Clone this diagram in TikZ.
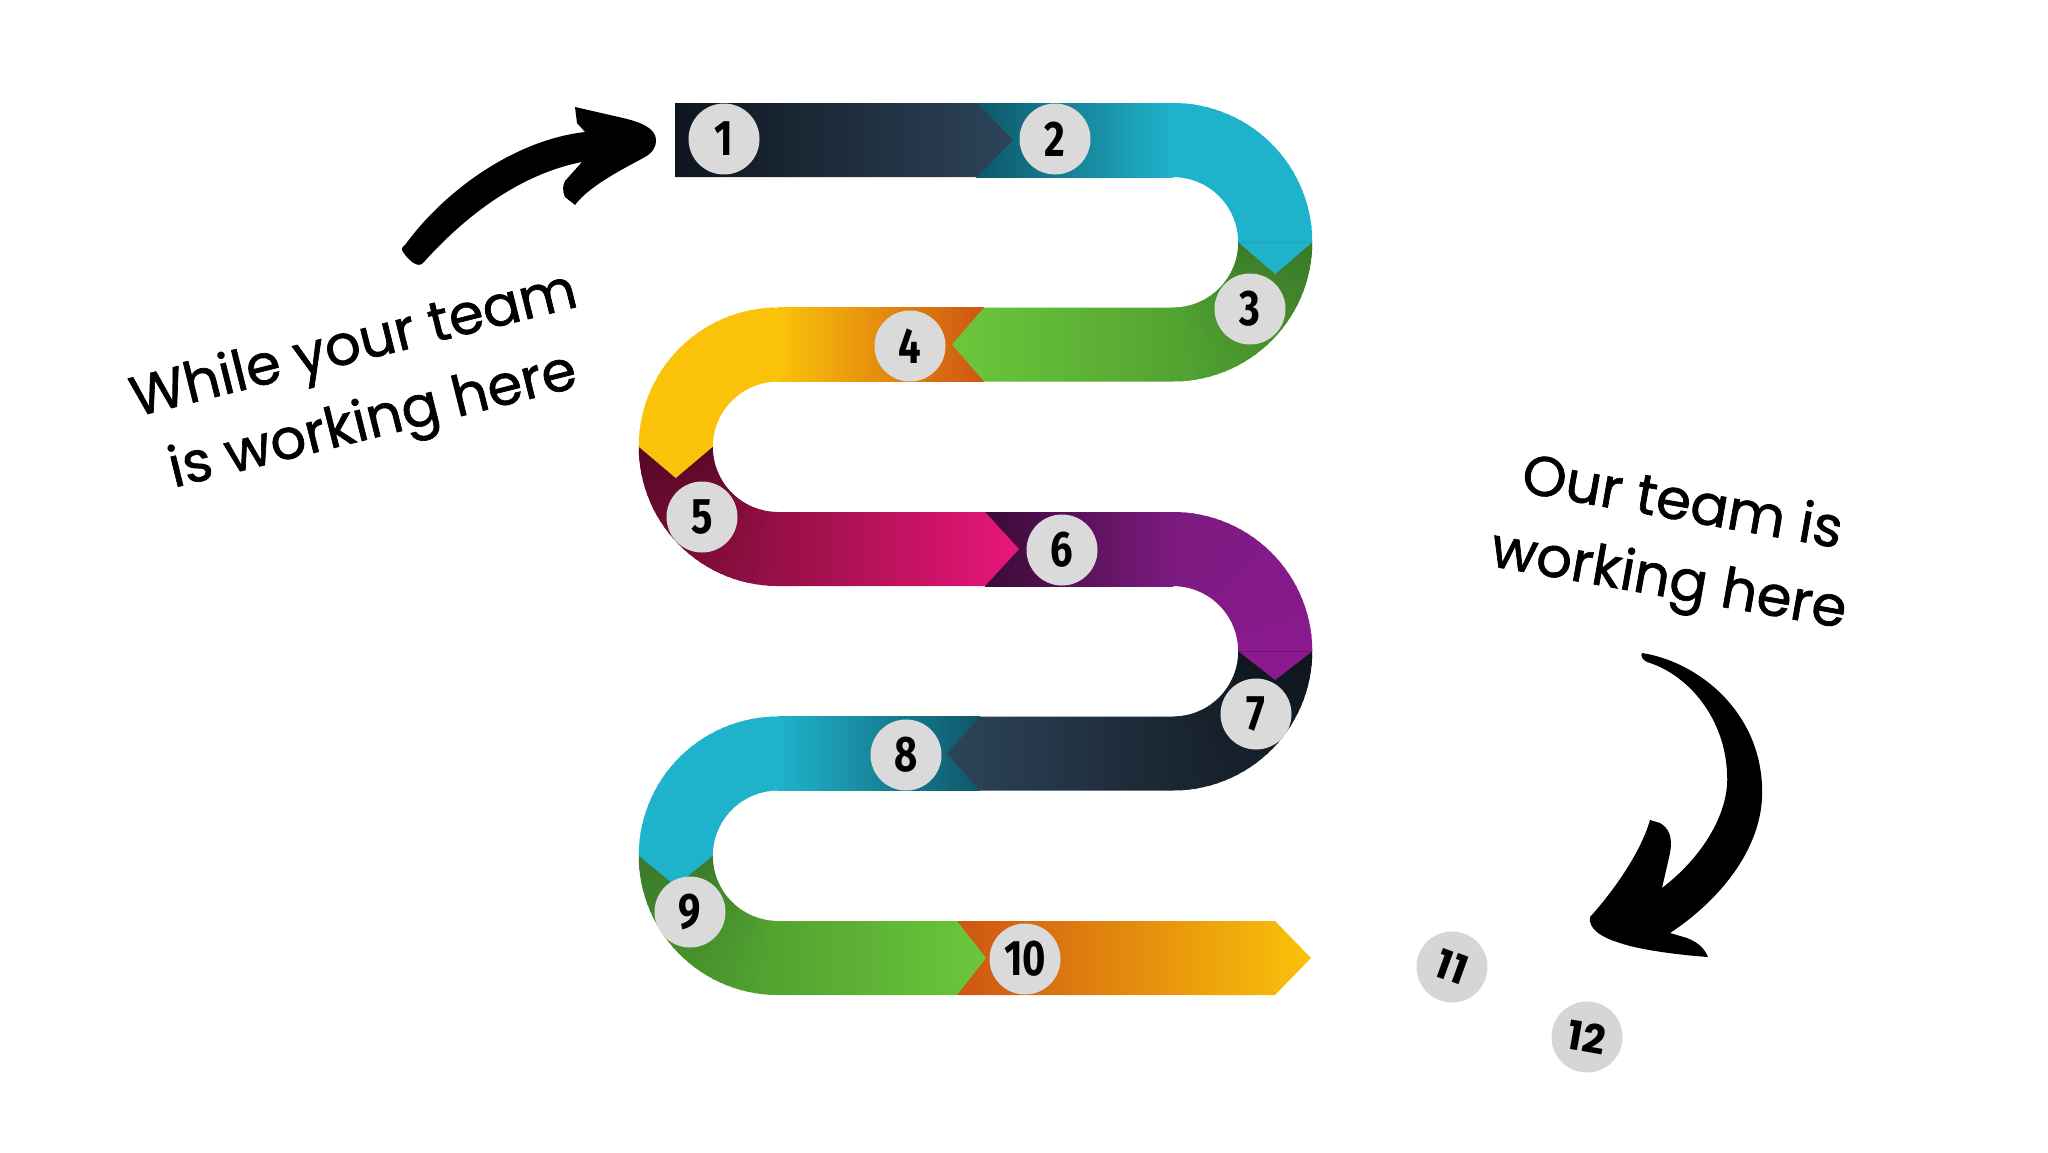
\documentclass[tikz,border=0pt]{standalone}
\usepackage{fontspec}
\usepackage{graphicx}
\setmainfont{Poppins}
\newfontfamily\numfont{Fira Sans}
\newfontfamily\lblfont{Poppins}[FakeBold=1.2]
\definecolor{navyA}{HTML}{0E151E}
\definecolor{navyB}{HTML}{2D4459}
\definecolor{navyC}{HTML}{1A2632}
\definecolor{tealA}{HTML}{0E5667}
\definecolor{cyanB}{HTML}{1FB3CB}
\definecolor{grnA}{HTML}{3A7A29}
\definecolor{grnM}{HTML}{52A431}
\definecolor{grnB}{HTML}{6DC73B}
\definecolor{orgA}{HTML}{CE5512}
\definecolor{orgM}{HTML}{EC9D0C}
\definecolor{yelB}{HTML}{FAC30A}
\definecolor{marA}{HTML}{560826}
\definecolor{marM}{HTML}{960F45}
\definecolor{pinkB}{HTML}{EA167B}
\definecolor{purA}{HTML}{3A0A36}
\definecolor{purM}{HTML}{7C1A7F}
\definecolor{purB}{HTML}{8A1A8E}
\definecolor{badgegray}{HTML}{DADADA}
\definecolor{badgelite}{HTML}{D6D6D8}
% annular sector sliced into a gradient: cx, cy, a0, a1, colA, colB
\newcommand\turnseg[6]{%
  \foreach \i in {0,...,29}{%
    \pgfmathsetmacro\aa{#3+(#4-#3)*(\i-0.4)/30}%
    \pgfmathsetmacro\bb{#3+(#4-#3)*(\i+1)/30}%
    \pgfmathtruncatemacro\pc{100*\i/29}%
    \fill[#6!\pc!#5, shift={(#1,#2)}] (\aa:65.25) arc[start angle=\aa, end angle=\bb, radius=65.25]
      -- (\bb:139.25) arc[start angle=\bb, end angle=\aa, radius=139.25] -- cycle;
  }}
\newcommand\badgenum[1]{\scalebox{0.8}[1]{#1}}
\tikzset{
  badge/.style={circle, fill=badgegray, minimum size=35.5pt, inner sep=0pt,
    font=\numfont\bfseries\fontsize{25}{25}\selectfont, text=black},
  badgefree/.style={circle, fill=badgelite, minimum size=35.5pt, inner sep=0pt,
    font=\bfseries\fontsize{20}{20}\selectfont, text=black},
  lbl/.style={align=center, font=\lblfont\fontsize{28}{39}\selectfont, text=black, inner sep=0pt},
}
\begin{document}
\begin{tikzpicture}[x=0.5pt,y=-0.5pt]
\useasboundingbox (0,0) rectangle (2048,1152);
\fill[white] (0,0) rectangle (2048,1152);

% segment 10
\shade[left color=orgA, middle color=orgM, right color=yelB]
  (957,921) -- (1275,921) -- (1311,958) -- (1275,995) -- (957,995) -- cycle;
% segment 9
\turnseg{778}{855.75}{180}{90}{grnA}{grnM}
\shade[left color=grnM, right color=grnB]
  (778,921) -- (957,921) -- (986,958) -- (957,995) -- (778,995) -- cycle;
% segment 8
\turnseg{778}{855.75}{270}{180}{cyanB}{cyanB}
\shade[left color=cyanB, right color=tealA] (778,716.5) rectangle (980,790.5);
\fill[cyanB] (712.75,855.75) -- (638.75,855.75) -- (675.75,886) -- cycle;
% segment 7
\turnseg{1173}{651.25}{0}{90}{navyA}{navyC}
\shade[left color=navyB, right color=navyC]
  (1173,716.5) -- (980,716.5) -- (947,753.5) -- (980,790.5) -- (1173,790.5) -- cycle;
% segment 6
\turnseg{1173}{651.25}{-90}{0}{purM}{purB}
\shade[left color=purA, right color=purM] (985,512) rectangle (1173,586);
\fill[purB] (1238.25,651.25) -- (1312.25,651.25) -- (1275.25,680) -- cycle;
% segment 5
\turnseg{778}{446.75}{180}{90}{marA}{marM}
\shade[left color=marM, right color=pinkB]
  (778,512) -- (985,512) -- (1019,549) -- (985,586) -- (778,586) -- cycle;
% segment 4
\turnseg{778}{446.75}{270}{180}{yelB}{yelB}
\shade[left color=yelB, middle color=orgM, right color=orgA] (778,307.5) rectangle (984,381.5);
\fill[yelB] (712.75,446.75) -- (638.75,446.75) -- (675.75,478) -- cycle;
% segment 3
\turnseg{1173}{242.25}{0}{90}{grnA}{grnM}
\shade[left color=grnB, right color=grnM]
  (1173,307.5) -- (984,307.5) -- (952,344.5) -- (984,381.5) -- (1173,381.5) -- cycle;
% segment 2
\turnseg{1173}{242.25}{-90}{0}{cyanB}{cyanB}
\shade[left color=tealA, right color=cyanB] (976,103) rectangle (1173,177);
\fill[cyanB] (1238.25,242.25) -- (1312.25,242.25) -- (1275.25,274) -- cycle;
% segment 1
\shade[left color=navyA, right color=navyB]
  (675,103) -- (976,103) -- (1013,140) -- (976,177) -- (675,177) -- cycle;

% badges
\node[badge] (b1) at (724,139) {\badgenum{1}};
\node[badge] (b2) at (1055,139) {\badgenum{2}};
\node[badge] (b3) at (1250,309) {\badgenum{3}};
\node[badge] (b4) at (910,346) {\badgenum{4}};
\node[badge] (b5) at (702,517) {\badgenum{5}};
\node[badge] (b6) at (1062,550) {\badgenum{6}};
\node[badge] (b7) at (1256,714) {\badgenum{7}};
\node[badge] (b8) at (906,755) {\badgenum{8}};
\node[badge] (b9) at (690,912) {\badgenum{9}};
\node[badge] (b10) at (1025,959) {\badgenum{10}};
\node[badgefree, rotate=-20] (b11) at (1452,967) {11};
\node[badgefree, rotate=-10] (b12) at (1587,1037) {12};

% texts
\node[lbl, rotate=14] (lt) at (364,386) {While your team\\is working here};
\node[lbl, rotate=-10] (rt) at (1675,545) {Our team is\\working here};

% left hand-drawn arrow
\fill[black] (405,245) .. controls (445,190) and (515,140) .. (585,132)
  -- (577,123) -- (575,107) -- (623,118)
  .. controls (640,122) and (656,128) .. (656,140)
  .. controls (656,148) and (652,153) .. (645,157)
  .. controls (625,168) and (590,185) .. (575,205)
  -- (565,197) .. controls (562,190) and (563,185) .. (565,181) -- (582,162)
  .. controls (530,172) and (475,205) .. (423,263)
  .. controls (418,268) and (410,262) .. (403,252)
  .. controls (401,249) and (402,247) .. (405,245) -- cycle;

% right hand-drawn arrow
\fill[black] (1642,653) .. controls (1700,662) and (1765,715) .. (1762,797)
  .. controls (1760,850) and (1720,900) .. (1670,933)
  -- (1687,938) .. controls (1700,943) and (1705,950) .. (1708,957)
  .. controls (1680,955) and (1640,950) .. (1620,943)
  .. controls (1600,937) and (1588,928) .. (1590,917)
  .. controls (1610,895) and (1640,855) .. (1650,820)
  -- (1660,823) .. controls (1668,828) and (1673,835) .. (1670,853)
  -- (1662,888)
  .. controls (1705,855) and (1730,810) .. (1727,773)
  .. controls (1725,720) and (1690,675) .. (1647,662)
  .. controls (1643,660) and (1640,656) .. (1642,653) -- cycle;
\end{tikzpicture}
\end{document}
